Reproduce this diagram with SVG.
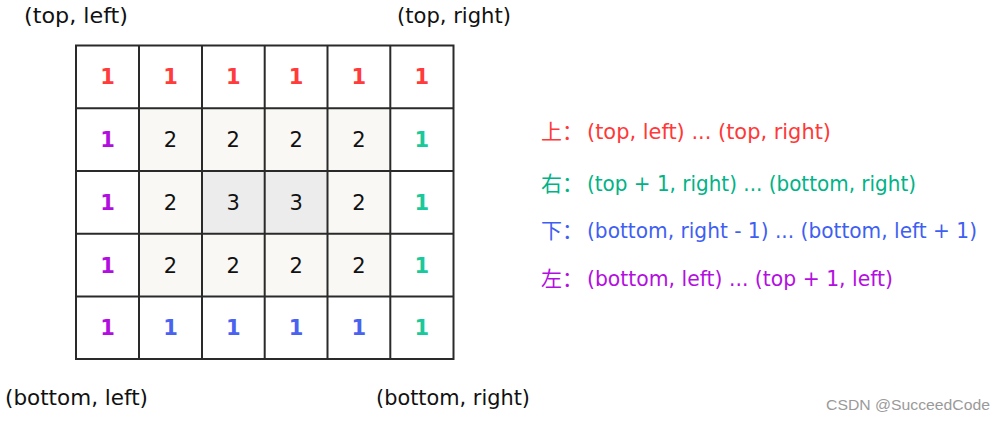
<svg xmlns="http://www.w3.org/2000/svg" width="1005" height="421" viewBox="0 0 1005 421">
<style>
text{font-family:"DejaVu Sans","Noto Sans CJK SC",sans-serif;font-size:21px}
.n{text-anchor:middle;font-size:20px}
.b{font-weight:bold}
.r{fill:#ff3b3b}.g{fill:#19c99a}.bl{fill:#4a62f0}.p{fill:#b10ee0}.k{fill:#111}
.gt{fill:#00b386}.pt{fill:#b30fe0}.rt{fill:#ff3838}.bt{fill:#3f5ff2}
.cell{fill:#ffffff;stroke:#2a2a2a;stroke-width:2}
.in{fill:#f9f8f4}
.mid{fill:#ececec}
</style>
<rect width="1005" height="421" fill="#ffffff"/>
<g id="grid">
<rect x="76" y="45.5" width="377.5" height="313.5" class="cell"/>
<rect x="139" y="108.3" width="251" height="188.3" class="in"/>
<rect x="202" y="171" width="125.5" height="62.8" class="mid"/>
<g stroke="#2a2a2a" stroke-width="2">
<line x1="139" y1="45.5" x2="139" y2="359"/>
<line x1="202" y1="45.5" x2="202" y2="359"/>
<line x1="264.7" y1="45.5" x2="264.7" y2="359"/>
<line x1="327.5" y1="45.5" x2="327.5" y2="359"/>
<line x1="390.3" y1="45.5" x2="390.3" y2="359"/>
<line x1="76" y1="108.3" x2="453.5" y2="108.3"/>
<line x1="76" y1="171" x2="453.5" y2="171"/>
<line x1="76" y1="233.8" x2="453.5" y2="233.8"/>
<line x1="76" y1="296.6" x2="453.5" y2="296.6"/>
</g>
</g>
<g id="numbers">
<g class="r b n">
<text x="107.5" y="84">1</text><text x="170.5" y="84">1</text><text x="233.3" y="84">1</text><text x="296.1" y="84">1</text><text x="358.9" y="84">1</text><text x="421.9" y="84">1</text>
</g>
<g class="p b n">
<text x="107.5" y="147">1</text><text x="107.5" y="210">1</text><text x="107.5" y="272.5">1</text><text x="107.5" y="335">1</text>
</g>
<g class="g b n">
<text x="421.9" y="147">1</text><text x="421.9" y="210">1</text><text x="421.9" y="272.5">1</text><text x="421.9" y="335">1</text>
</g>
<g class="bl b n">
<text x="170.5" y="335">1</text><text x="233.3" y="335">1</text><text x="296.1" y="335">1</text><text x="358.9" y="335">1</text>
</g>
<g class="k n">
<text x="170.5" y="147">2</text><text x="233.3" y="147">2</text><text x="296.1" y="147">2</text><text x="358.9" y="147">2</text>
<text x="170.5" y="210">2</text><text x="233.3" y="210">3</text><text x="296.1" y="210">3</text><text x="358.9" y="210">2</text>
<text x="170.5" y="272.5">2</text><text x="233.3" y="272.5">2</text><text x="296.1" y="272.5">2</text><text x="358.9" y="272.5">2</text>
</g>
</g>
<g id="corner-labels" class="k">
<text x="24" y="23" textLength="104" lengthAdjust="spacingAndGlyphs">(top, left)</text>
<text x="397" y="23" textLength="114" lengthAdjust="spacingAndGlyphs">(top, right)</text>
<text x="5" y="405" textLength="143" lengthAdjust="spacingAndGlyphs">(bottom, left)</text>
<text x="376" y="405" textLength="154" lengthAdjust="spacingAndGlyphs">(bottom, right)</text>
</g>
<g id="legend">
<text x="541" y="139" class="rt">上：</text>
<text x="587" y="139" class="rt" textLength="244" lengthAdjust="spacingAndGlyphs">(top, left) ... (top, right)</text>
<text x="541" y="191" class="gt">右：</text>
<text x="587" y="191" class="gt" textLength="329" lengthAdjust="spacingAndGlyphs">(top + 1, right) ... (bottom, right)</text>
<text x="541" y="238" class="bt">下：</text>
<text x="587" y="238" class="bt" textLength="390" lengthAdjust="spacingAndGlyphs">(bottom, right - 1) ... (bottom, left + 1)</text>
<text x="541" y="286" class="pt">左：</text>
<text x="587" y="286" class="pt" textLength="306" lengthAdjust="spacingAndGlyphs">(bottom, left) ... (top + 1, left)</text>
</g>
<text id="watermark" x="826" y="410" style="font-family:'Liberation Sans',sans-serif;font-size:14px;fill:#9a9a9a" textLength="164" lengthAdjust="spacingAndGlyphs">CSDN @SucceedCode</text>
</svg>
